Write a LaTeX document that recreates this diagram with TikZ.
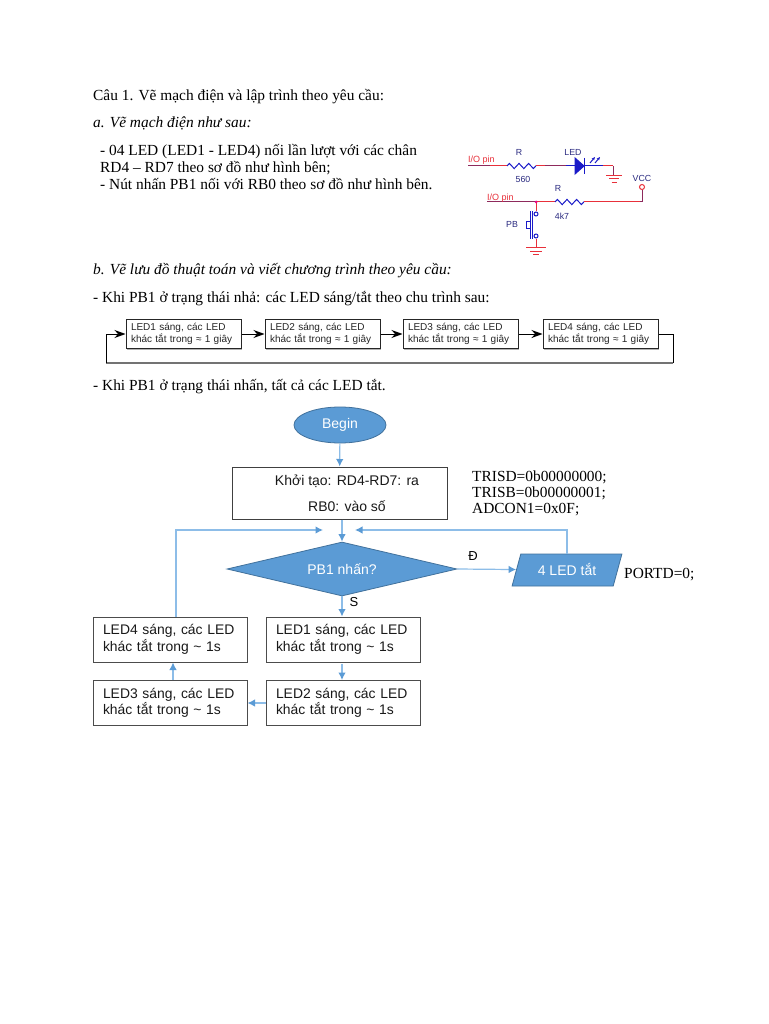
\documentclass[tikz,border=0pt]{standalone}
\usepackage{fontspec}
\setmainfont{Liberation Serif}
\setsansfont{Liberation Sans}
\usetikzlibrary{arrows.meta,shapes.geometric,decorations.pathmorphing}
\definecolor{flowblue}{HTML}{5B9BD5}
\definecolor{flowedge}{HTML}{41719C}
\definecolor{arrowblue}{HTML}{8DBDE8}
\definecolor{wirepurple}{HTML}{8E2A5C}
\definecolor{wirered}{HTML}{E8303A}
\definecolor{cblue}{HTML}{1A1AC8}
\definecolor{labelblue}{HTML}{2A2A80}
\tikzset{
  x=1pt,y=-1pt,
  para/.style={anchor=base west,inner sep=0pt,font=\fontsize{15.4}{17}\selectfont\rmfamily,text=black},
  parait/.style={para,font=\fontsize{15.4}{17}\selectfont\rmfamily\itshape},
  code/.style={para,font=\fontsize{15.4}{17}\selectfont\rmfamily},
  chainbox/.style={draw=black!85,line width=1pt,fill=white,minimum width=115pt,minimum height=29pt,inner sep=0pt,text width=105pt,align=left,font=\fontsize{10}{12.5}\selectfont\sffamily,text=black!85},
  chainshadow/.style={draw=none,fill=black!30,minimum width=115pt,minimum height=29pt},
  chainarrow/.style={draw=black,line width=1pt,-{Stealth[length=11pt,width=8pt]}},
  chainline/.style={draw=black!55,line width=1.7pt},
  flowbox/.style={draw=black!70,line width=1pt,fill=white,minimum width=154pt,minimum height=45pt,inner sep=0pt,text width=144pt,align=left,font=\fontsize{13.9}{17}\selectfont\sffamily,text=black!90},
  flowarrow/.style={draw=arrowblue,line width=1.2pt,-{Latex[length=7.5pt,width=7.5pt,color=flowblue]}},
  filled/.style={draw=flowedge,line width=.8pt,fill=flowblue,text=white,font=\fontsize{14}{16}\selectfont\sffamily,inner sep=0pt},
  lab/.style={inner sep=0pt,font=\fontsize{8.8}{10}\selectfont\sffamily,text=labelblue},
  redlab/.style={inner sep=0pt,font=\fontsize{9}{10}\selectfont\sffamily,text=wirered},
  wp/.style={draw=wirepurple,line width=1pt},
  wr/.style={draw=wirered,line width=1pt},
  comp/.style={draw=cblue,line width=1pt},
  res/.style={comp,decorate,decoration={zigzag,segment length=9.6pt,amplitude=2.6pt}},
  pin/.style={circle,draw=cblue,fill=white,line width=1pt,minimum size=4pt,inner sep=0pt},
  pinr/.style={circle,draw=wirered,fill=white,line width=1pt,minimum size=5pt,inner sep=0pt},
}
\begin{document}
\begin{tikzpicture}
\useasboundingbox[fill=white] (0,0) rectangle (768,1024);

% paragraph text
\node[para] (t1) at (93,101) {Câu 1. Vẽ mạch điện và lập trình theo yêu cầu:};
\node[parait] (t2) at (93,128) {a. Vẽ mạch điện như sau:};
\node[para] (t3) at (100,156) {- 04 LED (LED1 - LED4) nối lần lượt với các chân};
\node[para] (t4) at (100,173) {RD4 – RD7 theo sơ đồ như hình bên;};
\node[para] (t5) at (100,190) {- Nút nhấn PB1 nối với RB0 theo sơ đồ như hình bên.};
\node[parait] (t6) at (93,274) {b. Vẽ lưu đồ thuật toán và viết chương trình theo yêu cầu:};
\node[para] (t7) at (93,302) {- Khi PB1 ở trạng thái nhả: các LED sáng/tắt theo chu trình sau:};
\node[para] (t8) at (93,390) {- Khi PB1 ở trạng thái nhấn, tất cả các LED tắt.};

% circuit, upper branch
\coordinate (a0) at (468,166);
\coordinate (a1) at (490,166);
\coordinate (r1a) at (507,166);
\coordinate (r1b) at (536,166);
\coordinate (a2) at (545,166);
\coordinate (d1a) at (566,166);
\coordinate (d1k) at (584,166);
\coordinate (a3) at (603,166);
\coordinate (a4) at (613,166);
\coordinate (g1) at (613,175);
\draw[wp] (a0) -- (a1);
\draw[wr] (a1) -- (r1a);
\draw[res] (r1a) -- (r1b);
\draw[wr] (r1b) -- (a2);
\draw[wp] (a2) -- (d1a);
\draw[comp] (d1a) -- (575,166);
\draw[comp,fill=cblue] (575,158) -- (584,166) -- (575,174) -- cycle;
\draw[comp] (584,158) -- (584,174);
\draw[comp] (d1k) -- (a3);
\draw[wr] (a3) -- (a4);
\draw[wp] (a4) -- (g1);
\draw[comp,-{Stealth[length=3.5pt,width=3pt]}] (590,163) -- (595,157);
\draw[comp,-{Stealth[length=3.5pt,width=3pt]}] (595,163) -- (600,157);
\draw[wr] (606,175.5) -- (622,175.5);
\draw[wr] (609,179) -- (619,179);
\draw[wr] (611.5,182.5) -- (616.5,182.5);
\node[redlab,anchor=base west] (l1) at (468,163) {I/O pin};
\node[lab] (l2) at (519,152) {R};
\node[lab] (l3) at (523,179) {560};
\node[lab] (l4) at (573,152) {LED};

% circuit, lower branch
\coordinate (b0) at (487,202);
\coordinate (bj) at (536,202);
\coordinate (r2a) at (555,202);
\coordinate (r2b) at (584,202);
\coordinate (b3) at (640,202);
\coordinate (b4) at (642,202);
\node[pinr] (vcc) at (642,187) {};
\draw[wp] (b0) -- (bj);
\draw[wr] (bj) -- (r2a);
\draw[res] (r2a) -- (r2b);
\draw[wr] (r2b) -- (b3);
\draw[wp] (b3) -- (b4) -- (vcc.south);
\node[pin] (sw1) at (536,214) {};
\node[pin] (sw2) at (536,236) {};
\draw[wr] (bj) -- (sw1.north);
\fill[magenta] (bj) circle (1.5pt);
\draw[comp] (530,211) -- (530,239);
\draw[comp] (532,211) -- (532,239);
\draw[comp] (530,222) -- (526,222) -- (526,229) -- (530,229);
\draw[wr] (sw2.south) -- (536,247);
\draw[wr] (526,247.5) -- (546,247.5);
\draw[wr] (530,251) -- (542,251);
\draw[wr] (533,254.5) -- (539,254.5);
\node[redlab,anchor=base west] (l5) at (487,201) {I/O pin};
\node[lab] (l6) at (558,188) {R};
\node[lab] (l7) at (562,216) {4k7};
\node[lab] (l8) at (642,178) {VCC};
\node[lab] (l9) at (512,224) {PB};

% chain
\foreach \n/\cx in {s1/184.5,s2/323.5,s3/461.5,s4/601.5}
  \node[chainshadow] (\n) at (\cx,335.5) {};
\node[chainbox] (c1) at (183.5,334) {LED1 sáng, các LED\\[-.5pt]khác tắt trong ≈ 1 giây};
\node[chainbox] (c2) at (322.5,334) {LED2 sáng, các LED\\[-.5pt]khác tắt trong ≈ 1 giây};
\node[chainbox] (c3) at (460.5,334) {LED3 sáng, các LED\\[-.5pt]khác tắt trong ≈ 1 giây};
\node[chainbox] (c4) at (600.5,334) {LED4 sáng, các LED\\[-.5pt]khác tắt trong ≈ 1 giây};
\coordinate (cr) at (673,334);
\coordinate (crb) at (673,363);
\coordinate (clb) at (106,363);
\coordinate (cl) at (106,334);
\draw[chainarrow] (c1) -- (c2);
\draw[chainarrow] (c2) -- (c3);
\draw[chainarrow] (c3) -- (c4);
\draw[draw=black,line width=1pt] (c4) -- (cr) -- (crb);
\draw[chainline] (crb) -- (clb);
\draw[draw=black,line width=1pt] (clb) -- (cl);
\draw[chainarrow] (cl) -- (c1);

% flowchart
\node[ellipse,filled,minimum width=92pt,minimum height=36pt] (begin) at (340,425) {Begin};
\node[draw=black!75,line width=1pt,fill=white,minimum width=215pt,minimum height=52pt,inner sep=0pt,align=center,font=\fontsize{14}{26}\selectfont\sffamily,text=black!90] (init) at (339.5,493) {\hspace*{15pt}Khởi tạo: RD4-RD7: ra\\\hspace*{15pt}RB0: vào số};
\node[diamond,aspect=4.26,filled,minimum width=230pt,minimum height=54pt] (dec) at (342,569) {PB1 nhấn?};
\node[trapezium,trapezium stretches=true,trapezium left angle=68,trapezium right angle=112,filled,minimum width=110pt,minimum height=32pt] (off) at (567,570) {\raisebox{1.5pt}{4 LED tắt}};
\node[flowbox] (f1) at (343,639.5) {\hspace*{5pt}LED1 sáng, các LED\\[-.5pt]\hspace*{5pt}khác tắt trong \textasciitilde{} 1s};
\node[flowbox] (f2) at (343,703) {\hspace*{5pt}LED2 sáng, các LED\\[-.5pt]\hspace*{5pt}khác tắt trong \textasciitilde{} 1s};
\node[flowbox] (f3) at (170,703) {\hspace*{5pt}LED3 sáng, các LED\\[-.5pt]\hspace*{5pt}khác tắt trong \textasciitilde{} 1s};
\node[flowbox] (f4) at (170,639.5) {\hspace*{5pt}LED4 sáng, các LED\\[-.5pt]\hspace*{5pt}khác tắt trong \textasciitilde{} 1s};

\coordinate (rr) at (567,530);
\coordinate (re) at (355,530);
\coordinate (lr) at (176,530);
\coordinate (le) at (323,530);
\draw[flowarrow] (begin) -- (init);
\draw[flowarrow] (init.south -| dec.north) -- (dec.north);
\draw[flowarrow] (dec.east) -- (off);
\draw[flowarrow] (dec.south) -- (dec.south |- f1.north);
\draw[flowarrow] (f1.south -| 342,0) ++(0,1) -- (342,680);
\draw[flowarrow] (f2.west) -- (f3.east);
\draw[flowarrow] (f3.north -| 173,0) -- (f4.south -| 173,0);
\draw[flowarrow] (off.north -| rr) -- (rr) -- (re);
\draw[flowarrow] (f4.north -| lr) -- (lr) -- (le);

\node[code] (c5) at (472,481) {TRISD=0b00000000;};
\node[code] (c6) at (472,497) {TRISB=0b00000001;};
\node[code] (c7) at (472,513) {ADCON1=0x0F;};
\node[code] (c8) at (624,578) {PORTD=0;};
\node[inner sep=0pt,font=\fontsize{13}{15}\selectfont\sffamily] (ld) at (473,556) {Đ};
\node[inner sep=0pt,font=\fontsize{13}{15}\selectfont\sffamily] (ls) at (354,602) {S};
\end{tikzpicture}
\end{document}
